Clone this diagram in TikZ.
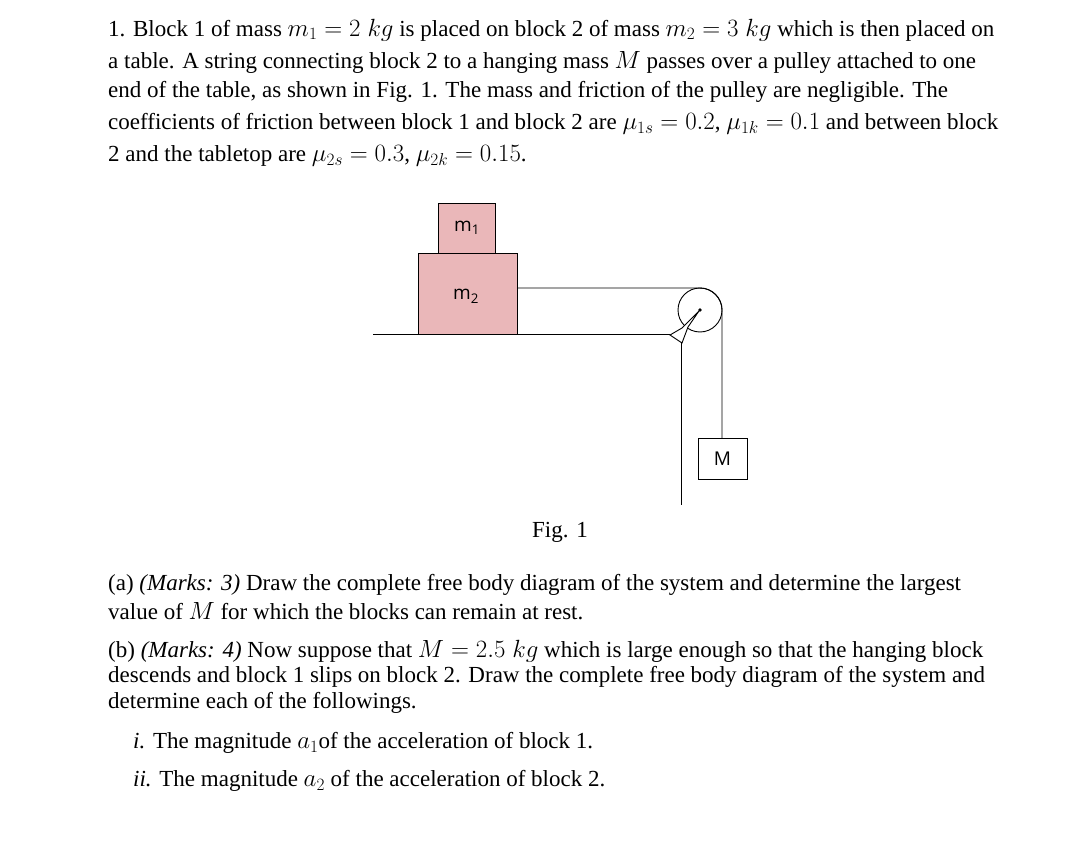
\documentclass[tikz,border=0pt]{standalone}
\usepackage{fontspec}
\setmainfont{Liberation Serif}
\newfontfamily\lab{Open Sans}
\begin{document}
\begin{tikzpicture}[x=1pt,y=-1pt,
  tl/.style={anchor=west,inner sep=0pt,font=\fontsize{23}{27}\selectfont},
  lbl/.style={font=\lab\fontsize{19}{22}\selectfont}]
\useasboundingbox (0,0) rectangle (1080,856);
\node[tl] (l1) at (108,30) {1. Block 1 of mass $m_1=2\;kg$ is placed on block 2 of mass $m_2=3\;kg$ which is then placed on};
\node[tl] (l2) at (108,62) {a table. A string connecting block 2 to a hanging mass $M$ passes over a pulley attached to one};
\node[tl] (l3) at (108,92) {end of the table, as shown in Fig. 1. The mass and friction of the pulley are negligible. The};
\node[tl] (l4) at (108,124) {coefficients of friction between block 1 and block 2 are $\mu_{1s}=0.2$, $\mu_{1k}=0.1$ and between block};
\node[tl] (l5) at (108,156) {2 and the tabletop are $\mu_{2s}=0.3$, $\mu_{2k}=0.15$.};
% figure
\fill[fill={rgb,255:red,234;green,183;blue,185}] (438,203) rectangle (495,253);
\draw[line width=0.9pt] (438,253) -- (438,203) -- (495,203) -- (495,253);
\fill[fill={rgb,255:red,234;green,183;blue,185}] (418,253) rectangle (517,334);
\draw[line width=0.9pt] (418,334) -- (418,253) -- (517,253) -- (517,334);
\node[lbl] (t1) at (467,228) {m\textsubscript{1}};
\node[lbl] (t2) at (466,296) {m\textsubscript{2}};
\draw[line width=0.9pt] (373,334) -- (670,334);
\draw[line width=0.9pt] (681,334) -- (681,505);
\coordinate (pc) at (700,310);
\draw[line width=0.9pt] (pc) circle (22);
\fill (pc) circle (1.8);
\draw[line width=0.9pt] (517,288) -- (700,288) .. controls (712,288) and (722,298) .. (722,310) -- (722,438);
\draw[line width=0.9pt,fill=white] (670,335) -- (682,328) -- (699,311) -- (688,327) -- (682,343) -- cycle;
\node[draw,line width=0.9pt,minimum width=49pt,minimum height=41pt,inner sep=0pt,lbl] (M) at (722.5,458.5) {M};
\node[tl,anchor=center] (fig) at (560,532) {Fig. 1};
\node[tl] (a1) at (108,585) {(a) \textit{(Marks: 3)} Draw the complete free body diagram of the system and determine the largest};
\node[tl] (a2) at (108,611) {value of $M$ for which the blocks can remain at rest.};
\node[tl] (b1) at (108,651) {(b) \textit{(Marks: 4)} Now suppose that $M=2.5\;kg$ which is large enough so that the hanging block};
\node[tl] (b2) at (108,677) {descends and block 1 slips on block 2. Draw the complete free body diagram of the system and};
\node[tl] (b3) at (108,703) {determine each of the followings.};
\node[tl] (i1) at (133,743) {\textit{i.} The magnitude $a_1$of the acceleration of block 1.};
\node[tl] (i2) at (133,781) {\textit{ii.} The magnitude $a_2$ of the acceleration of block 2.};
\end{tikzpicture}
\end{document}
